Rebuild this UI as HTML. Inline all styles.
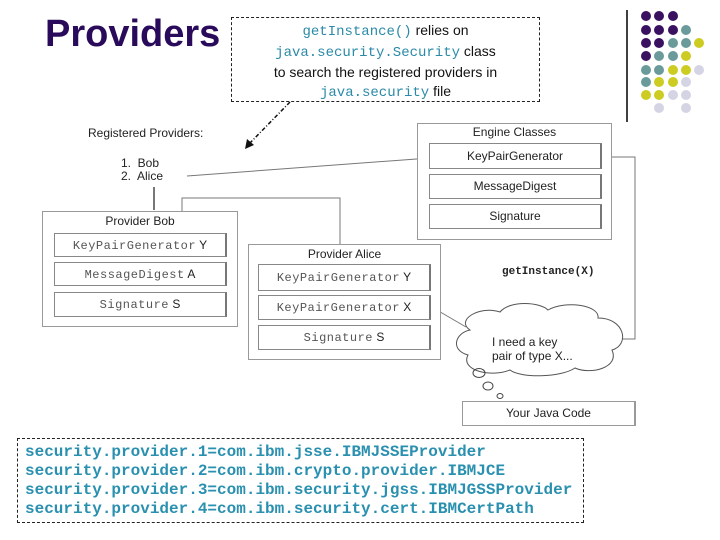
<!DOCTYPE html>
<html><head><style>
body{margin:0;width:720px;height:540px;background:#fff;position:relative;overflow:hidden;font-family:"Liberation Sans",sans-serif}
.a{position:absolute}
.box{position:absolute;border:1px solid #999;box-sizing:border-box;background:#fff}
.row{position:absolute;border:1px solid #888;border-right:2px solid #777;box-sizing:border-box;font-size:12px;text-align:center;color:#222}
.m{font-family:"Liberation Mono",monospace;color:#555;letter-spacing:0.5px}
.t{position:absolute;font-size:12px;color:#222;text-align:center}
.code{font-family:"Liberation Mono",monospace;color:#2a8aa8}
</style></head><body>
<div class="a" style="left:45px;top:13px;font-size:38px;font-weight:bold;color:#2a0a5a">Providers</div>
<div class="a" style="left:231px;top:17px;width:309px;height:85px;border:1px dashed #222;box-sizing:border-box;text-align:center;font-size:14px;line-height:19px;padding-top:3px;color:#111">
<span class="code">getInstance()</span> relies on<br><span class="code">java.security.Security</span> class<br>to search the registered providers in<br><span class="code">java.security</span> file</div>
<svg class="a" style="left:0;top:0" width="720" height="540">
<line x1="627" y1="10" x2="627" y2="122" stroke="#000" stroke-width="1.5"/>
<g>
<circle cx="646" cy="16" r="5" fill="#3a1060"/><circle cx="659" cy="16" r="5" fill="#3a1060"/><circle cx="673" cy="16" r="5" fill="#3a1060"/>
<circle cx="646" cy="30" r="5" fill="#3a1060"/><circle cx="659" cy="30" r="5" fill="#3a1060"/><circle cx="673" cy="30" r="5" fill="#3a1060"/><circle cx="686" cy="30" r="5" fill="#6a9a9a"/>
<circle cx="646" cy="43" r="5" fill="#3a1060"/><circle cx="659" cy="43" r="5" fill="#3a1060"/><circle cx="673" cy="43" r="5" fill="#6a9a9a"/><circle cx="686" cy="43" r="5" fill="#6a9a9a"/><circle cx="699" cy="43" r="5" fill="#cccc22"/>
<circle cx="646" cy="56" r="5" fill="#3a1060"/><circle cx="659" cy="56" r="5" fill="#6a9a9a"/><circle cx="673" cy="56" r="5" fill="#6a9a9a"/><circle cx="686" cy="56" r="5" fill="#cccc22"/>
<circle cx="646" cy="70" r="5" fill="#6a9a9a"/><circle cx="659" cy="70" r="5" fill="#6a9a9a"/><circle cx="673" cy="70" r="5" fill="#cccc22"/><circle cx="686" cy="70" r="5" fill="#cccc22"/><circle cx="699" cy="70" r="5" fill="#d4d4e4"/>
<circle cx="646" cy="82" r="5" fill="#6a9a9a"/><circle cx="659" cy="82" r="5" fill="#cccc22"/><circle cx="673" cy="82" r="5" fill="#cccc22"/><circle cx="686" cy="82" r="5" fill="#d4d4e4"/>
<circle cx="646" cy="95" r="5" fill="#cccc22"/><circle cx="659" cy="95" r="5" fill="#cccc22"/><circle cx="673" cy="95" r="5" fill="#d4d4e4"/><circle cx="686" cy="95" r="5" fill="#d4d4e4"/>
<circle cx="659" cy="108" r="5" fill="#d4d4e4"/><circle cx="686" cy="108" r="5" fill="#d4d4e4"/>
</g>
<line x1="290" y1="102" x2="249" y2="144" stroke="#111" stroke-width="1.5" stroke-dasharray="4,2,1,2"/>
<polygon points="245,149 247,139 254,145" fill="#111"/>
<g stroke="#777" fill="none" stroke-width="1">
<line x1="187" y1="176" x2="430" y2="158"/>
<line x1="154" y1="187" x2="154" y2="210" stroke-width="2"/>
<polyline points="182,211 182,198 340,198 340,244"/>
<polyline points="590,157 635,157 635,339 620,339"/>
<line x1="430" y1="306" x2="466" y2="327"/>
<path d="M470,330 C455,320 480,305 500,312 C510,300 540,302 548,310 C565,300 600,305 598,318 C625,318 630,345 612,350 C620,368 590,375 575,368 C560,378 520,378 510,370 C490,378 460,370 468,355 C450,350 455,333 470,330 Z" stroke="#555" fill="#fff"/>
<ellipse cx="479" cy="373" rx="6" ry="4.5" stroke="#444"/>
<ellipse cx="488" cy="386" rx="5" ry="4" stroke="#444"/>
<ellipse cx="500" cy="396" rx="3" ry="2.5" stroke="#444"/>
</g>
</svg>
<div class="a" style="left:88px;top:126px;font-size:12px;color:#222">Registered Providers:</div>
<div class="a" style="left:121px;top:157px;font-size:12px;line-height:13px;color:#222">1.&nbsp; Bob<br>2.&nbsp; Alice</div>
<div class="box" style="left:42px;top:211px;width:196px;height:116px">
<div class="t" style="left:0;width:100%;top:2px">Provider Bob</div></div>
<div class="row" style="left:54px;top:233px;width:173px;height:24px;line-height:22px"><span class="m">KeyPairGenerator</span> Y</div>
<div class="row" style="left:54px;top:262px;width:173px;height:24px;line-height:22px"><span class="m">MessageDigest</span> A</div>
<div class="row" style="left:54px;top:292px;width:173px;height:25px;line-height:23px"><span class="m">Signature</span> S</div>
<div class="box" style="left:248px;top:244px;width:193px;height:116px">
<div class="t" style="left:0;width:100%;top:2px">Provider Alice</div></div>
<div class="row" style="left:258px;top:264px;width:173px;height:27px;line-height:25px"><span class="m">KeyPairGenerator</span> Y</div>
<div class="row" style="left:258px;top:295px;width:173px;height:25px;line-height:23px"><span class="m">KeyPairGenerator</span> X</div>
<div class="row" style="left:258px;top:325px;width:173px;height:25px;line-height:23px"><span class="m">Signature</span> S</div>
<div class="box" style="left:417px;top:123px;width:195px;height:117px">
<div class="t" style="left:0;width:100%;top:1px">Engine Classes</div></div>
<div class="row" style="left:429px;top:143px;width:173px;height:26px;line-height:24px">KeyPairGenerator</div>
<div class="row" style="left:429px;top:174px;width:173px;height:25px;line-height:23px">MessageDigest</div>
<div class="row" style="left:429px;top:204px;width:173px;height:25px;line-height:23px">Signature</div>
<div class="a" style="left:502px;top:266px;font-family:'Liberation Mono',monospace;font-weight:bold;font-size:11px;color:#222">getInstance(X)</div>
<div class="a" style="left:492px;top:335px;font-size:12px;line-height:14px;color:#222">I need a key<br>pair of type X...</div>
<div class="row" style="left:462px;top:401px;width:174px;height:25px;line-height:23px;border-color:#999">Your Java Code</div>
<div class="a" style="left:17px;top:438px;width:567px;height:85px;border:1px dashed #222;box-sizing:border-box;padding:4px 0 0 7px;font-family:'Liberation Mono',monospace;font-weight:bold;font-size:16px;line-height:19px;color:#2a90b0;white-space:pre">security.provider.1=com.ibm.jsse.IBMJSSEProvider
security.provider.2=com.ibm.crypto.provider.IBMJCE
security.provider.3=com.ibm.security.jgss.IBMJGSSProvider
security.provider.4=com.ibm.security.cert.IBMCertPath</div>
</body></html>
